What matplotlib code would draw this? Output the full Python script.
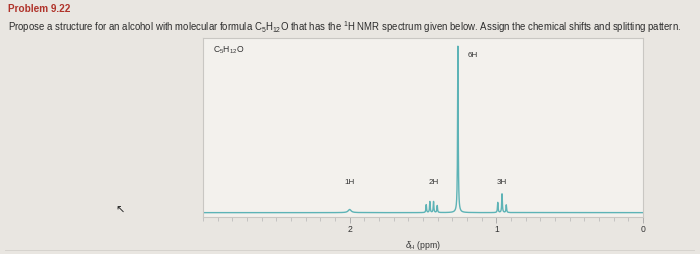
import numpy as np
import matplotlib
matplotlib.use("Agg")
import matplotlib.pyplot as plt
from matplotlib.patches import Rectangle

# ---- data ----
peak_ppm = [2.00, 1.478, 1.453, 1.428, 1.403, 1.262, 0.990, 0.961, 0.932]
peak_height = [0.018, 0.045, 0.063, 0.063, 0.040, 0.953, 0.058, 0.107, 0.044]
peak_hwhm = [0.012, 0.0025, 0.0025, 0.0025, 0.0025, 0.0025, 0.0025, 0.0025, 0.0025]

integ_labels = ["1H", "2H", "6H", "3H"]
integ_ppm = [2.00, 1.43, 1.16, 0.96]
integ_y = [0.17, 0.17, 0.90, 0.17]

major_ticks = [2, 1, 0]
major_labels = ["2", "1", "0"]

plt.rcParams['font.family'] = ['Liberation Sans', 'DejaVu Sans']
plt.rcParams['mathtext.fontset'] = 'custom'
plt.rcParams['mathtext.rm'] = 'Liberation Sans'
plt.rcParams['mathtext.it'] = 'Liberation Sans:italic'

fig = plt.figure(figsize=(7.0, 2.54), dpi=100)
fig.patch.set_facecolor('#e9e6e1')

# faint outer frame of the picture
fig.patches.append(Rectangle((5 / 700, 3 / 254), 690 / 700, 1 / 254, transform=fig.transFigure,
                             facecolor='#d6d3ce', edgecolor='none'))

fig.text(8 / 700, 1 - 9 / 254, "Problem 9.22", color='#b0332a', fontsize=7.2,
         fontweight='bold', va='center', ha='left')
fig.text(8 / 700, 1 - 27 / 254,
         r"Propose a structure for an alcohol with molecular formula C$_5$H$_{12}$O that has the "
         r"$^1$H NMR spectrum given below. Assign the chemical shifts and splitting pattern.",
         color='#2c2c2c', fontsize=6.95, va='center', ha='left')

ax = fig.add_axes([203 / 700, 1 - 217 / 254, 440 / 700, (217 - 38) / 254])
ax.set_facecolor('#f3f1ed')

x = np.linspace(0, 3, 15001)
y = np.zeros_like(x)
for p, h, w in zip(peak_ppm, peak_height, peak_hwhm):
    y += h * w ** 2 / ((x - p) ** 2 + w ** 2)
ax.plot(x, y, color='#5db3b6', lw=1.0)

ax.set_xlim(3.0, 0.0)
ax.set_ylim(-0.025, 1.0)

for lab, p, yy in zip(integ_labels, integ_ppm, integ_y):
    ax.text(p, yy, lab, fontsize=5.8, color='#333333', ha='center', va='center')
ax.text(2.93, 0.93, r"C$_5$H$_{12}$O", fontsize=6.2, color='#333333', ha='left', va='center')

ax.set_xticks(major_ticks)
ax.set_xticklabels(major_labels)
ax.set_xticks(np.arange(0, 3.001, 0.1), minor=True)
ax.set_yticks([])
ax.tick_params(axis='x', which='major', length=4, width=0.6, color='#a5a5a5',
               labelsize=6.2, labelcolor='#333333', pad=2)
ax.tick_params(axis='x', which='minor', length=3, width=0.5, color='#b5b5b5')
for s in ax.spines.values():
    s.set_color('#c9c7c3')
    s.set_linewidth(0.8)

ax.set_xlabel(r"$\delta_{\mathrm{H}}$ (ppm)", fontsize=6.2, color='#333333', labelpad=3)

# mouse cursor in the photo
fig.text(120 / 700, 1 - 211 / 254, "\u2196", fontsize=8, color='#222222', ha='center', va='center',
         family='DejaVu Sans')

fig.savefig("out.png", dpi=100, facecolor=fig.get_facecolor())
